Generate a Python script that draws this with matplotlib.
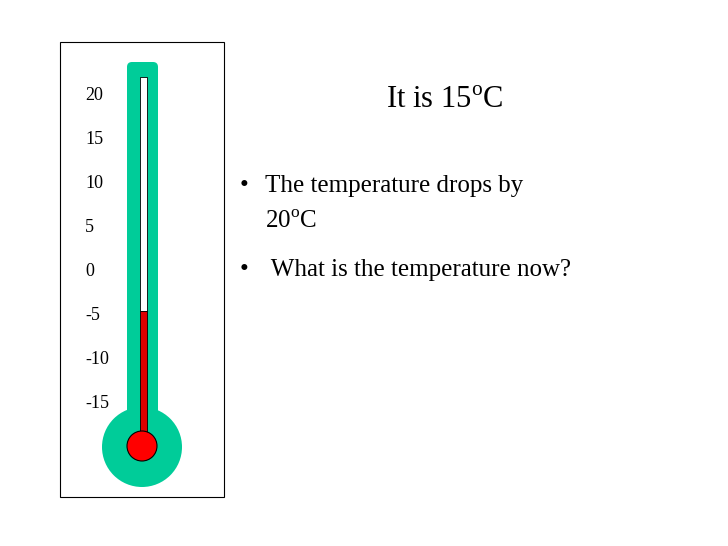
import matplotlib
matplotlib.use("Agg")
import matplotlib.pyplot as plt
from matplotlib.patches import FancyBboxPatch, Rectangle, Circle

tick_values = [20, 15, 10, 5, 0, -5, -10, -15]
current_temp = -4.5
title = "It is 15$^{\\mathrm{o}}$C"
bullets = [["The temperature drops by", "20$^{\\mathrm{o}}$C"], [" What is the temperature now?"]]

plt.rcParams['font.family'] = 'Liberation Serif'
plt.rcParams['mathtext.fontset'] = 'custom'
plt.rcParams['mathtext.rm'] = 'Liberation Serif'

fig = plt.figure(figsize=(7.28, 5.46), dpi=100)
ax = fig.add_axes([0, 0, 1, 1])
ax.set_xlim(0, 728); ax.set_ylim(546, 0); ax.axis('off')

def ty(v):
    return 271 - v * 8.8

ax.add_patch(Rectangle((60, 42), 164, 455, fill=False, ec='black', lw=0.8))
green = '#00cc99'
ax.add_patch(FancyBboxPatch((127, 62), 31, 370, boxstyle="round,pad=0,rounding_size=5", fc=green, ec='none'))
ax.add_patch(Circle((142, 447), 40, fc=green, ec='none'))
ax.add_patch(Rectangle((139.5, 77), 7, ty(current_temp) - 77, fc='white', ec='black', lw=0.6))
ax.add_patch(Rectangle((139.5, ty(current_temp)), 7, 440 - ty(current_temp), fc='#dd0000', ec='black', lw=0.6))
ax.add_patch(Circle((142, 446), 15, fc='red', ec='black', lw=0.8))

for v in tick_values:
    ax.text(85, ty(v), str(v), fontsize=13, va='center', ha='left')

ax.text(445, 100, title, fontsize=22, ha='center', va='center')
y = 186
for b in bullets:
    ax.text(240, y, "•", fontsize=18, va='center')
    for line in b:
        ax.text(265, y, line, fontsize=18, va='center')
        y += 36
    y += 12

fig.savefig("out.png", dpi=100)
